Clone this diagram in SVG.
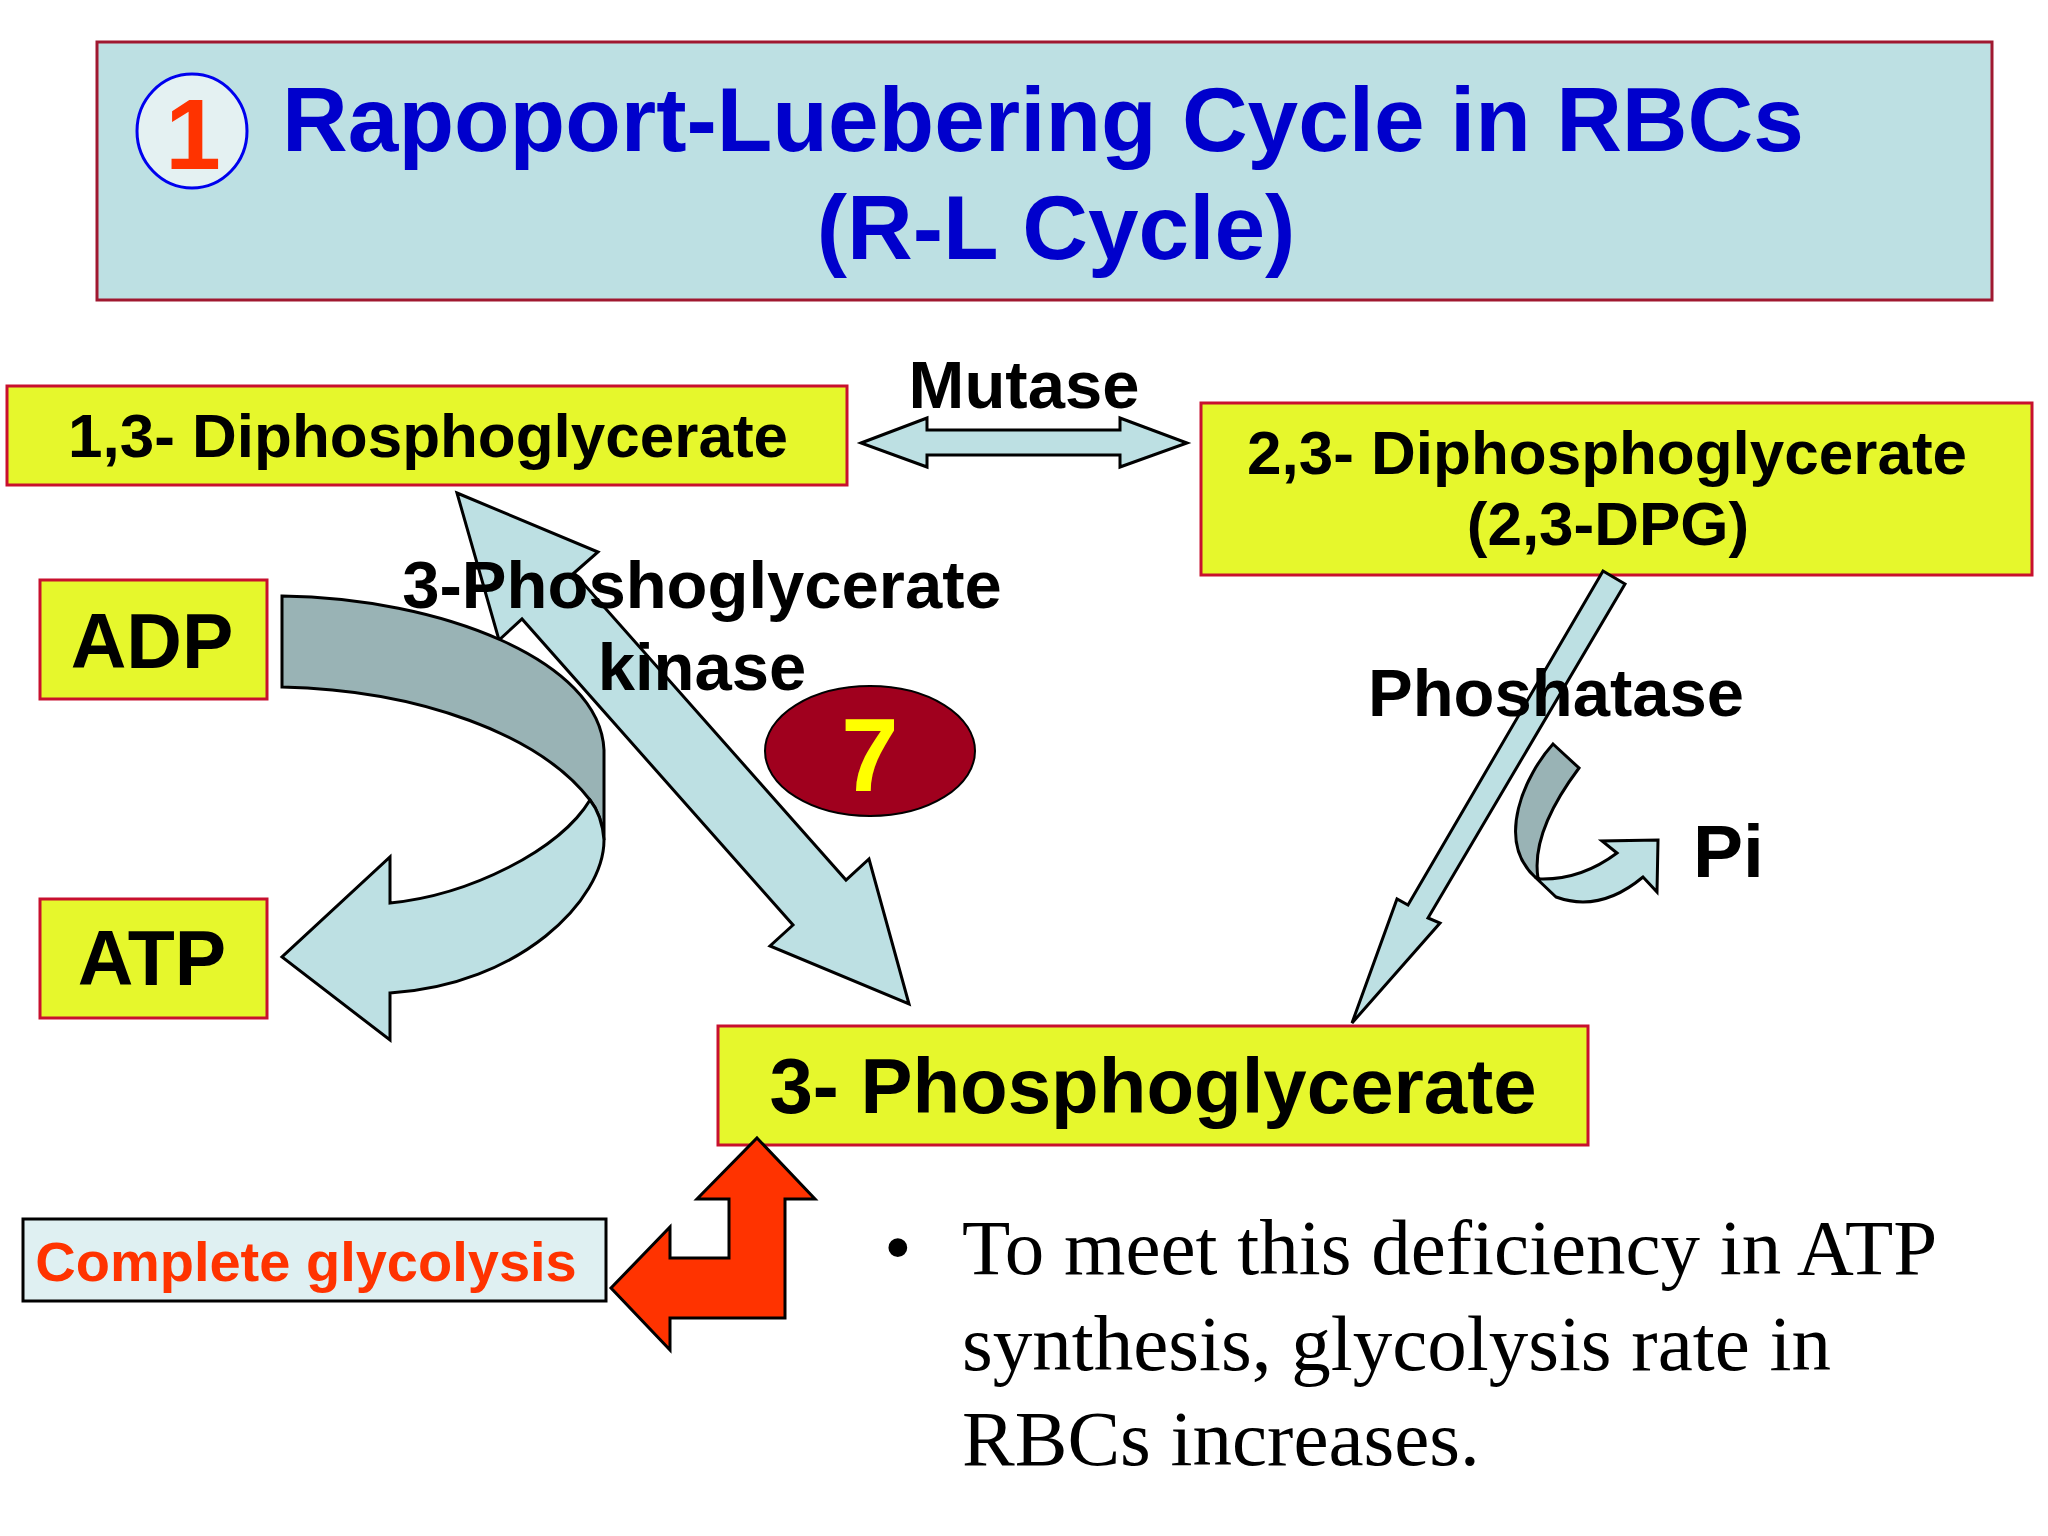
<svg xmlns="http://www.w3.org/2000/svg" width="2048" height="1536" viewBox="0 0 2048 1536">
<style>
.box{fill:#e6f72c;stroke:#c8102e;stroke-width:3}
.lbl{font-family:"Liberation Sans",Arial,sans-serif;font-weight:bold;fill:#000;text-anchor:middle}
.arr{fill:#bde0e3;stroke:#000;stroke-width:3;stroke-linejoin:miter}
.dark{fill:#99b3b5;stroke:#000;stroke-width:3}
.body{font-family:"Liberation Serif","Times New Roman",serif;font-size:79px;fill:#000}
</style>
<rect width="2048" height="1536" fill="#fff"/>
<g id="title">
<rect x="97" y="42" width="1895" height="258" fill="#bde0e3" stroke="#a01830" stroke-width="3"/>
<ellipse cx="192" cy="131" rx="55" ry="57" fill="#e4f1f2" stroke="#0000ee" stroke-width="3"/>
<text x="193" y="169" class="lbl" style="font-size:100px;fill:#ff3300">1</text>
<text x="1043" y="151" class="lbl" style="font-size:91px;fill:#0000cc">Rapoport-Luebering Cycle in RBCs</text>
<text x="1056" y="259" class="lbl" style="font-size:91px;fill:#0000cc">(R-L Cycle)</text>
</g>
<g id="node-13dpg">
<rect x="7" y="386" width="840" height="99" class="box"/>
<text x="428" y="457" class="lbl" font-size="62">1,3- Diphosphoglycerate</text>
</g>
<g id="node-23dpg">
<rect x="1201" y="403" width="831" height="172" class="box"/>
<text x="1607" y="474" class="lbl" font-size="62">2,3- Diphosphoglycerate</text>
<text x="1608" y="545" class="lbl" font-size="62">(2,3-DPG)</text>
</g>
<g id="node-adp">
<rect x="40" y="580" width="227" height="119" class="box"/>
<text x="152" y="668" class="lbl" font-size="77">ADP</text>
</g>
<g id="node-atp">
<rect x="40" y="899" width="227" height="119" class="box"/>
<text x="152" y="985" class="lbl" font-size="77">ATP</text>
</g>
<g id="node-3pg">
<rect x="718" y="1026" width="870" height="119" class="box"/>
<text x="1153" y="1113" class="lbl" font-size="78">3- Phosphoglycerate</text>
</g>
<g id="node-glycolysis">
<rect x="23" y="1219" width="583" height="82" fill="#dff0f2" stroke="#000" stroke-width="3"/>
<text x="306" y="1281" class="lbl" style="font-size:56px;fill:#ff3300">Complete glycolysis</text>
</g>
<g id="connectors">
<polygon class="arr" points="861,443 927,418 927,430 1120,430 1120,418 1187,443 1120,467 1120,455 927,455 927,467"/>
<polygon class="arr" points="457,493 598,552 574,573 846,880 869,859 909,1004 770,946 793,925 522,619 499,640"/>
<path class="dark" d="M282,596 C440,598 600,660 604,750 L604,840 Q602,815 590,800 C540,735 420,690 282,687 Z"/>
<path class="arr" d="M590,800 Q602,815 604,840 C604,900 520,985 390,993 L390,1040 L282,957 L390,857 L390,903 C470,895 560,850 590,800 Z"/>
<polygon class="arr" points="1603,571 1625,584 1428,918 1440,923 1352,1023 1397,899 1408,905"/>
<path class="dark" d="M1553,744 L1579,768 C1555,800 1532,840 1538,878 L1535,877 C1495,840 1525,775 1553,744 Z"/>
<path class="arr" d="M1535,877 L1556,897 Q1600,913 1643,877 L1657,892 L1658,840 L1602,841 L1617,853 Q1581,880 1540,879 Z"/>
<polygon points="757,1138 815,1199 785,1199 785,1318 670,1318 670,1350 611,1288 670,1227 670,1258 729,1258 729,1199 697,1199" fill="#ff3300" stroke="#000" stroke-width="3"/>
</g>
<g id="labels">
<text x="1024" y="408" class="lbl" font-size="67">Mutase</text>
<text x="702" y="608" class="lbl" font-size="67">3-Phoshoglycerate</text>
<text x="702" y="690" class="lbl" font-size="67">kinase</text>
<text x="1556" y="716" class="lbl" font-size="67">Phoshatase</text>
<text x="1693" y="877" class="lbl" font-size="75" style="text-anchor:start">Pi</text>
</g>
<g id="enzyme-7">
<ellipse cx="870" cy="751" rx="105" ry="65" fill="#a0001e" stroke="#000" stroke-width="2"/>
<text x="870" y="791" class="lbl" style="font-size:103px;fill:#ffff00">7</text>
</g>
<g id="bullet">
<text x="884" y="1274" class="body">•</text>
<text x="962" y="1274" class="body">To meet this deficiency in ATP</text>
<text x="962" y="1370" class="body">synthesis, glycolysis rate in</text>
<text x="962" y="1465" class="body">RBCs increases.</text>
</g>
</svg>
